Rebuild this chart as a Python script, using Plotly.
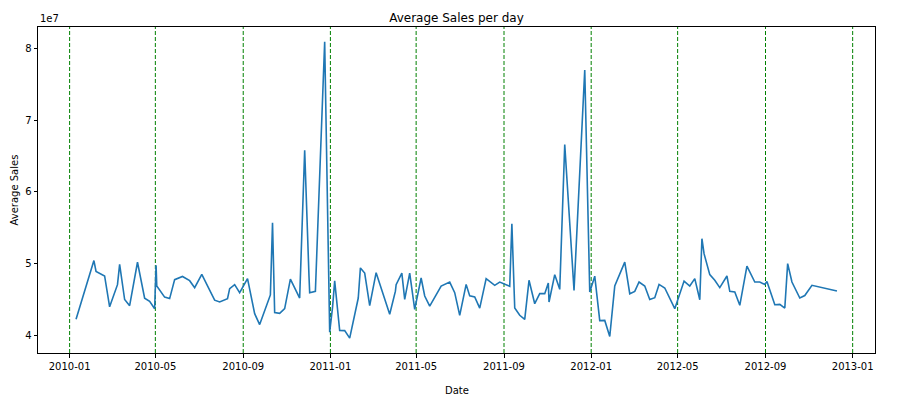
import plotly.graph_objects as go
import pandas as pd

# ---- data ----
dates_2010 = ["2010-01-10", "2010-02-04", "2010-02-07", "2010-02-19", "2010-02-26", "2010-03-09",
              "2010-03-12", "2010-03-19", "2010-03-26", "2010-04-06", "2010-04-16", "2010-04-23",
              "2010-04-30", "2010-05-02", "2010-05-03", "2010-05-11", "2010-05-14", "2010-05-21",
              "2010-05-28", "2010-06-08", "2010-06-18", "2010-06-25", "2010-07-05", "2010-07-16",
              "2010-07-23", "2010-07-30", "2010-08-10", "2010-08-13", "2010-08-20", "2010-08-27",
              "2010-09-04", "2010-09-07", "2010-09-17", "2010-09-24", "2010-10-09", "2010-10-12",
              "2010-10-15", "2010-10-22", "2010-10-29", "2010-11-06", "2010-11-19", "2010-11-26",
              "2010-12-02", "2010-12-03", "2010-12-11", "2010-12-17", "2010-12-24", "2010-12-31"]
sales_2010 = [42.24e6, 50.42e6, 48.92e6, 48.28e6, 43.97e6, 47.06e6,
              49.90e6, 44.99e6, 44.13e6, 50.19e6, 45.18e6, 44.73e6,
              43.71e6, 49.75e6, 46.87e6, 45.80e6, 45.33e6, 45.12e6,
              47.76e6, 48.20e6, 47.62e6, 46.64e6, 48.50e6, 46.30e6,
              44.90e6, 44.65e6, 45.11e6, 46.50e6, 47.07e6, 45.95e6,
              47.40e6, 47.90e6, 43.02e6, 41.50e6, 45.63e6, 55.70e6,
              43.16e6, 43.07e6, 43.72e6, 47.83e6, 45.20e6, 65.82e6,
              48.34e6, 45.93e6, 46.13e6, 63.00e6, 80.93e6, 40.43e6]

dates_2011 = ["2011-01-04", "2011-01-07", "2011-01-14", "2011-01-21", "2011-01-28", "2011-02-09",
              "2011-02-12", "2011-02-18", "2011-02-25", "2011-03-06", "2011-03-18", "2011-03-25",
              "2011-04-02", "2011-04-03", "2011-04-11", "2011-04-15", "2011-04-22", "2011-04-29",
              "2011-05-08", "2011-05-13", "2011-05-20", "2011-05-27", "2011-06-05", "2011-06-17",
              "2011-06-24", "2011-07-01", "2011-07-10", "2011-07-15", "2011-07-22", "2011-07-29",
              "2011-08-04", "2011-08-07", "2011-08-19", "2011-08-26", "2011-09-09", "2011-09-12",
              "2011-09-16", "2011-09-23", "2011-09-30", "2011-10-06", "2011-10-14", "2011-10-21",
              "2011-10-28", "2011-11-02", "2011-11-03", "2011-11-11", "2011-11-18", "2011-11-25",
              "2011-12-08", "2011-12-16", "2011-12-23", "2011-12-30"]
sales_2011 = [43.90e6, 47.60e6, 40.67e6, 40.65e6, 39.60e6, 45.20e6,
              49.40e6, 48.68e6, 44.15e6, 48.74e6, 44.97e6, 42.93e6,
              46.15e6, 47.06e6, 48.68e6, 45.00e6, 48.68e6, 43.62e6,
              47.99e6, 45.48e6, 44.08e6, 45.34e6, 46.87e6, 47.43e6,
              45.95e6, 42.78e6, 47.10e6, 45.50e6, 45.34e6, 43.80e6,
              46.60e6, 47.90e6, 46.97e6, 47.43e6, 46.83e6, 55.56e6,
              43.80e6, 42.79e6, 42.23e6, 47.67e6, 44.41e6, 45.81e6,
              45.81e6, 47.30e6, 44.65e6, 48.46e6, 46.41e6, 66.59e6,
              46.27e6, 63.50e6, 77.00e6, 46.04e6]

dates_2012 = ["2012-01-06", "2012-01-13", "2012-01-20", "2012-01-27", "2012-02-03", "2012-02-17",
              "2012-02-24", "2012-03-02", "2012-03-08", "2012-03-16", "2012-03-23", "2012-03-30",
              "2012-04-05", "2012-04-13", "2012-04-20", "2012-04-27", "2012-05-10", "2012-05-18",
              "2012-05-25", "2012-06-01", "2012-06-04", "2012-06-07", "2012-06-15", "2012-06-22",
              "2012-06-29", "2012-07-09", "2012-07-13", "2012-07-20", "2012-07-27", "2012-08-06",
              "2012-08-17", "2012-08-24", "2012-08-31", "2012-09-03", "2012-09-14", "2012-09-21",
              "2012-09-28", "2012-10-02", "2012-10-08", "2012-10-19", "2012-10-26", "2012-11-05",
              "2012-12-10"]
sales_2012 = [48.25e6, 42.05e6, 42.08e6, 39.83e6, 46.87e6, 50.20e6,
              45.80e6, 46.13e6, 47.43e6, 46.87e6, 45.00e6, 45.25e6,
              47.10e6, 46.60e6, 45.06e6, 43.72e6, 47.57e6, 46.87e6,
              47.90e6, 44.96e6, 53.47e6, 51.38e6, 48.46e6, 47.67e6,
              46.65e6, 48.27e6, 46.13e6, 46.04e6, 44.18e6, 49.66e6,
              47.43e6, 47.43e6, 47.10e6, 47.50e6, 44.27e6, 44.32e6,
              43.80e6, 50.00e6, 47.43e6, 45.20e6, 45.55e6, 46.97e6,
              46.17e6]

vline_dates = ["2010-01-01", "2010-05-01", "2010-09-01", "2011-01-01", "2011-05-01",
               "2011-09-01", "2012-01-01", "2012-05-01", "2012-09-01", "2013-01-01"]
xtick_labels = ["2010-01", "2010-05", "2010-09", "2011-01", "2011-05",
                "2011-09", "2012-01", "2012-05", "2012-09", "2013-01"]
ytick_vals = [4e7, 5e7, 6e7, 7e7, 8e7]
ytick_text = ["4", "5", "6", "7", "8"]

dates = pd.to_datetime(dates_2010 + dates_2011 + dates_2012)
sales = sales_2010 + sales_2011 + sales_2012

# matplotlib-like 5% autoscale margins
xmin, xmax = dates.min(), dates.max()
xpad = (xmax - xmin) * 0.05
ymin, ymax = min(sales), max(sales)
ypad = (ymax - ymin) * 0.05

FONT = "DejaVu Sans"
fig = go.Figure()
fig.add_trace(go.Scatter(x=dates, y=sales, mode="lines",
                         line=dict(color="#1f77b4", width=1.6), showlegend=False))

for d in vline_dates:
    fig.add_shape(type="line", xref="x", yref="paper", x0=d, x1=d, y0=0, y1=1,
                  line=dict(color="green", width=1, dash="4px,2px"), layer="below")

axis_common = dict(showgrid=False, zeroline=False, showline=True, linecolor="black",
                   linewidth=1, mirror=True, ticks="outside", ticklen=3.5, tickwidth=1,
                   tickcolor="black", tickfont=dict(family=FONT, size=10, color="black"))

fig.update_xaxes(range=[xmin - xpad, xmax + xpad], tickmode="array",
                 tickvals=pd.to_datetime(vline_dates), ticktext=xtick_labels, **axis_common)
fig.update_yaxes(range=[ymin - ypad, ymax + ypad], tickmode="array",
                 tickvals=ytick_vals, ticktext=ytick_text, **axis_common)

fig.update_layout(
    width=911, height=400,
    margin=dict(l=38, r=36, t=27, b=47),
    plot_bgcolor="white", paper_bgcolor="white",
    font=dict(family=FONT, size=10, color="black"),
    title=dict(text="Average Sales per day", x=0.5, xanchor="center", xref="paper",
               y=1 - 17.5 / 400, yanchor="middle", yref="container",
               font=dict(family=FONT, size=12, color="black")),
    annotations=[
        dict(text="1e7", xref="paper", yref="paper", x=0, y=1, xanchor="left",
             yanchor="bottom", yshift=1, showarrow=False,
             font=dict(family=FONT, size=10, color="black")),
        dict(text="Date", xref="paper", yref="paper", x=0.5, y=-37.5 / 326,
             xanchor="center", yanchor="middle", showarrow=False,
             font=dict(family=FONT, size=10, color="black")),
        dict(text="Average Sales", xref="paper", yref="paper", x=-24.5 / 837, y=0.5,
             xanchor="center", yanchor="middle", textangle=-90, showarrow=False,
             font=dict(family=FONT, size=10, color="black")),
    ],
)

fig.write_html("out.html", config={"displayModeBar": False},
               post_script="document.body.style.margin='0';document.body.style.padding='0';")
